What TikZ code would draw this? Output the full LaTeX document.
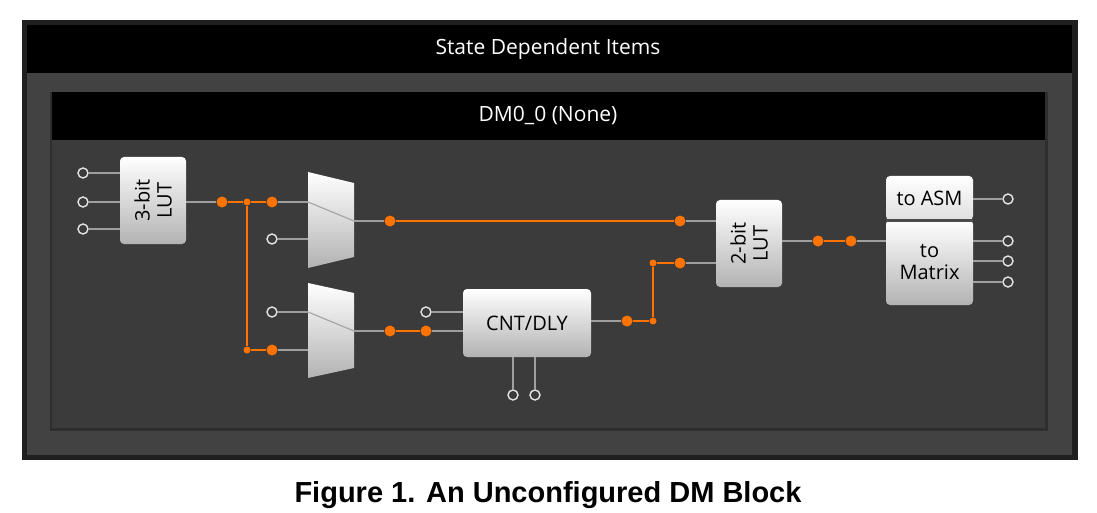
\documentclass[tikz,border=0pt]{standalone}
\usepackage{fontspec}
\setmainfont{Open Sans}
\newfontfamily\capfont{Liberation Sans}
\begin{document}
\begin{tikzpicture}[x=1pt,y=-1pt,
  wire/.style={draw=gray!75,line width=1.2pt},
  ow/.style={draw=orange!90!red,line width=1.8pt},
  pin/.style={circle,draw=gray!20,line width=1.4pt,fill=none,minimum size=10pt,inner sep=0pt},
  dot/.style={circle,fill=orange!90!red,minimum size=11pt,inner sep=0pt},
  sdot/.style={circle,fill=orange!90!red,minimum size=7pt,inner sep=0pt},
  blk/.style={draw=none,rounded corners=4pt,top color=white,bottom color=gray!60,inner sep=0pt},
  lbl/.style={font=\fontsize{20}{22}\selectfont,text=black,align=center}]
\useasboundingbox (0,0) rectangle (1097,513);
\fill[white] (0,0) rectangle (1097,513);
% frames
\fill[black!88] (22,20) rectangle (1078,460);
\fill[black!74] (27,25) rectangle (1072,455);
\fill[black] (27,25) rectangle (1072,73);
\node[text=white,font=\fontsize{21}{22}\selectfont] (t1) at (548,49) {State Dependent Items};
\fill[black!82] (50,92) rectangle (1048,431);
\fill[black!77] (52,140) rectangle (1045,428);
\fill[black] (52,92) rectangle (1045,140);
\node[text=white,font=\fontsize{21}{22}\selectfont] (t2) at (548,116) {DM0\_0 (None)};
\node[font=\capfont\bfseries\fontsize{29}{30}\selectfont] (cap) at (548,495) {Figure 1. An Unconfigured DM Block};
% 3-bit LUT
\node[blk,minimum width=66pt,minimum height=87pt] (lut3) at (153,200.5) {};
\node[lbl,rotate=90] at (lut3) {3-bit\\LUT};
\foreach \i/\y in {1/173,2/202,3/229}{
  \node[pin] (p\i) at (83,\y) {};
  \draw[wire] (p\i) -- (120,\y);}
% muxes
\path[top color=white,bottom color=gray!60] (308,172) -- (354,183) -- (354,257) -- (308,268) -- cycle;
\path[top color=white,bottom color=gray!60] (308,283) -- (354,293) -- (354,368) -- (308,378) -- cycle;
\coordinate (m1a) at (308,202); \coordinate (m1b) at (308,239); \coordinate (m1o) at (354,221);
\coordinate (m2a) at (308,312); \coordinate (m2b) at (308,350); \coordinate (m2o) at (354,331);
\draw[draw=gray!70,line width=1.2pt] (m1a) -- (m1o) (m2a) -- (m2o);
% dots
\node[dot] (d1) at (222,202) {};
\node[sdot] (j1) at (247,202) {};
\node[dot] (d2) at (272,202) {};
\node[sdot] (j2) at (247,350) {};
\node[dot] (d3) at (272,350) {};
\node[pin] (p4) at (272,239) {};
\node[pin] (p5) at (272,312) {};
\draw[wire] (186,202) -- (d1);
\draw[ow] (d1) -- (j1) -- (d2);
\draw[ow] (j1) -- (j2) -- (d3);
\draw[wire] (d2) -- (m1a);
\draw[wire] (d3) -- (m2b);
\draw[wire] (p4) -- (m1b);
\draw[wire] (p5) -- (m2a);
% CNT/DLY
\node[blk,minimum width=128pt,minimum height=68pt] (cnt) at (527,323) {};
\node[lbl] at (cnt) {CNT/DLY};
\node[dot] (d4) at (390,221) {};
\node[dot] (d5) at (680,221) {};
\node[dot] (d6) at (390,331) {};
\node[dot] (d7) at (426,331) {};
\node[pin] (p6) at (426,312) {};
\node[pin] (p7) at (513,395) {};
\node[pin] (p8) at (535,395) {};
\draw[wire] (m1o) -- (d4);
\draw[ow] (d4) -- (d5);
\draw[wire] (m2o) -- (d6);
\draw[ow] (d6) -- (d7);
\draw[wire] (d7) -- (463,331);
\draw[wire] (p6) -- (463,312);
\draw[wire] (p7) -- (513,357);
\draw[wire] (p8) -- (535,357);
% 2-bit LUT
\node[blk,minimum width=66pt,minimum height=87pt] (lut2) at (749,243.5) {};
\node[lbl,rotate=90] at (lut2) {2-bit\\LUT};
\node[dot] (d8) at (627,321) {};
\node[sdot] (j3) at (653,321) {};
\node[sdot] (j4) at (653,263) {};
\node[dot] (d9) at (680,263) {};
\draw[wire] (591,321) -- (d8);
\draw[ow] (d8) -- (j3) -- (j4) -- (d9);
\draw[wire] (d5) -- (716,221);
\draw[wire] (d9) -- (716,263);
% output block
\node[dot] (d10) at (818,241) {};
\node[dot] (d11) at (851,241) {};
\draw[wire] (782,241) -- (d10);
\draw[ow] (d10) -- (d11);
\draw[wire] (d11) -- (886,241);
\node[blk,minimum width=87pt,minimum height=44pt,top color=white,bottom color=gray!25] (asm) at (929.5,198) {};
\node[lbl] at (asm) {to ASM};
\node[blk,minimum width=87pt,minimum height=85pt] (mtx) at (929.5,262.5) {};
\node[lbl] at (mtx) {to\\Matrix};
\fill[black!70] (886,219) rectangle (973,222);
\foreach \i/\y in {9/199,10/241,11/261,12/282}{
  \node[pin] (p\i) at (1008,\y) {};
  \draw[wire] (973,\y) -- (p\i);}
\end{tikzpicture}
\end{document}
